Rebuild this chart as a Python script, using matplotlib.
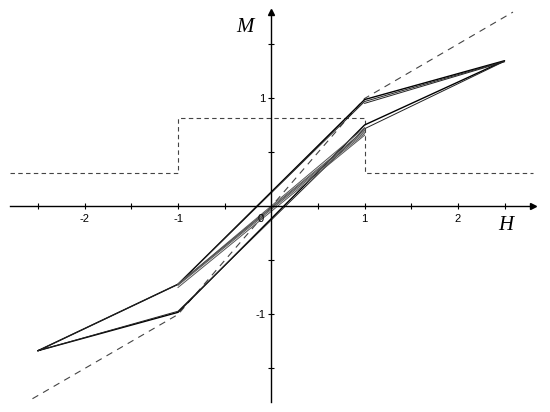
import matplotlib
matplotlib.use("Agg")
import matplotlib.pyplot as plt

plt.rcParams.update({
    "font.family": ["Liberation Sans", "DejaVu Sans"],
    "axes.unicode_minus": False,
})

# ── Data ──────────────────────────────────────────────────────────────────────
# outer hysteresis loop, two passes that almost overlap
loop_H = [-2.5, -1.0, 1.0, 2.5, 1.0, -1.0, -2.5]
loop1_M = [-1.335, -0.98, 0.755, 1.35, 0.99, -0.72, -1.335]
loop2_M = [-1.335, -0.97, 0.72, 1.345, 0.972, -0.72, -1.335]

# third trace of the descending branch near the right tip
tip_H = [2.5, 1.0]
tip_M = [1.34, 0.955]

# inner minor-loop branches fanning out from (-1, -0.72)
fan_H = [-1.0, 1.0]
fan_start_M = [-0.72, -0.72, -0.72, -0.73, -0.75]
fan_end_M = [0.73, 0.705, 0.69, 0.675, 0.66]

# anhysteretic (dashed) curve
anh_H = [-2.56, -1.0, 1.0, 2.59]
anh_M = [-1.78, -1.0, 1.0, 1.8]

# dashed step function
step_edges = [-2.8, -1.0, 1.0, 2.8]
step_vals = [0.31, 0.82, 0.31]

x_major = [-2, -1, 1, 2]
x_minor = [-2.5, -1.5, -0.5, 0.5, 1.5, 2.5]
y_major = [-1, 1]
y_minor = [-1.5, -0.5, 0.5, 1.5]

# ── Figure ────────────────────────────────────────────────────────────────────
fig = plt.figure(figsize=(5.5, 4.12), dpi=100)
ax = fig.add_axes([0, 0, 1, 1])
ax.set_xlim(-2.908, 2.987)
ax.set_ylim(-1.903, 1.912)

for s in ("top", "right"):
    ax.spines[s].set_visible(False)
ax.spines["bottom"].set_position(("data", 0))
ax.spines["left"].set_position(("data", 0))
ax.spines["bottom"].set_bounds(-2.8, 2.8)
ax.spines["left"].set_bounds(-1.81, 1.8)
for s in ("bottom", "left"):
    ax.spines[s].set_linewidth(1.0)

ax.set_xticks(x_major)
ax.set_xticks(x_minor, minor=True)
ax.set_yticks(y_major)
ax.set_yticks(y_minor, minor=True)
ax.set_xticklabels([str(v) for v in x_major])
ax.set_yticklabels([str(v) for v in y_major])
ax.tick_params(which="both", direction="inout", length=5, width=0.8, labelsize=8)
ax.tick_params(axis="x", pad=3)
ax.tick_params(axis="y", pad=2)

# axis arrow heads
ax.plot([2.8], [0], marker=">", color="black", markersize=5, clip_on=False)
ax.plot([0], [1.8], marker="^", color="black", markersize=5, clip_on=False)

# dashed guides
ax.plot(anh_H, anh_M, color="#444444", lw=0.8, dashes=(6, 5))
ax.stairs(step_vals, step_edges, baseline=None, color="#444444", lw=0.8,
          linestyle=(0, (4, 3)))

# hysteresis loops
ax.plot(loop_H, loop1_M, color="black", lw=1.0)
ax.plot(loop_H, loop2_M, color="#222222", lw=0.7)
ax.plot(tip_H, tip_M, color="#222222", lw=0.7)
for m0, m1 in zip(fan_start_M, fan_end_M):
    ax.plot(fan_H, [m0, m1], color="#555555", lw=0.7)

# labels
ax.text(-0.28, 1.66, "M", family="Liberation Serif", style="italic",
        fontsize=15, ha="center", va="center")
ax.text(2.51, -0.18, "H", family="Liberation Serif", style="italic",
        fontsize=15, ha="center", va="center")
ax.text(-0.11, -0.12, "0", fontsize=8, ha="center", va="center")

fig.savefig("out.png", dpi=100)
